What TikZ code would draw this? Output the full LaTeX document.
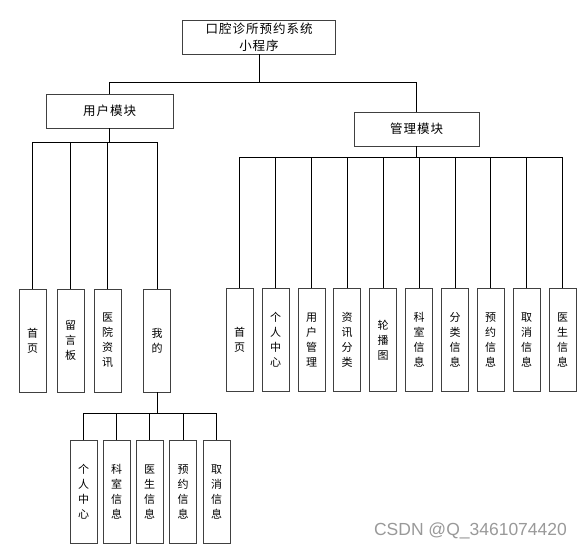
\documentclass[tikz,border=0pt]{standalone}
\usepackage{fontspec}
\setmainfont{Liberation Sans}
\newfontfamily\cjk{Noto Sans CJK SC}
\newfontfamily\cjkwide[LetterSpace=8]{Noto Sans CJK SC}
\tikzset{
  box/.style={draw=black!75, line width=0.8pt, fill=white, inner sep=0pt, align=center,
    font=\cjk\fontsize{11}{15}\selectfont},
  modbox/.style={box, minimum height=34pt, font=\cjkwide\fontsize{12.5}{17}\selectfont},
  leaf/.style={box, minimum width=27pt, minimum height=103pt},
  link/.style={line width=0.8pt}
}
\begin{document}
\begin{tikzpicture}[x=1pt,y=-1pt]
  \useasboundingbox (0,0) rectangle (585,549);
  \node[modbox, minimum width=153pt] (sys) at (259,37) {口腔诊所预约系统\\小程序};
  \node[modbox, minimum width=127pt] (user) at (109.5,111) {用户模块};
  \node[modbox, minimum width=125pt] (admin) at (416.5,129) {管理模块};
  \coordinate (bus0) at (0,82);
  \coordinate (bus1) at (0,142);
  \coordinate (bus2) at (0,157);
  \coordinate (bus3) at (0,413);
  \node[leaf] (u1) at (32.5,340.5) {首\\页};
  \node[leaf] (u2) at (70.5,340.5) {留\\言\\板};
  \node[leaf] (u3) at (107.5,340.5) {医\\院\\资\\讯};
  \node[leaf] (u4) at (157,340.5) {我\\的};
  \node[leaf] (a1) at (239.5,340) {首\\页};
  \node[leaf] (a2) at (275.5,340) {个\\人\\中\\心};
  \node[leaf] (a3) at (311.5,340) {用\\户\\管\\理};
  \node[leaf] (a4) at (347,340) {资\\讯\\分\\类};
  \node[leaf] (a5) at (383,340) {轮\\播\\图};
  \node[leaf] (a6) at (419,340) {科\\室\\信\\息};
  \node[leaf] (a7) at (455,340) {分\\类\\信\\息};
  \node[leaf] (a8) at (490.5,340) {预\\约\\信\\息};
  \node[leaf] (a9) at (526.5,340) {取\\消\\信\\息};
  \node[leaf] (a10) at (562.5,340) {医\\生\\信\\息};
  \node[leaf] (m1) at (83.5,492) {个\\人\\中\\心};
  \node[leaf] (m2) at (116.5,492) {科\\室\\信\\息};
  \node[leaf] (m3) at (149.5,492) {医\\生\\信\\息};
  \node[leaf] (m4) at (183,492) {预\\约\\信\\息};
  \node[leaf] (m5) at (216.5,492) {取\\消\\信\\息};
  \draw[link] (sys.south) -- (sys.south |- bus0);
  \draw[link] (user.north) -- (user.north |- bus0) -- (admin.north |- bus0) -- (admin.north);
  \draw[link] (user.south) -- (user.south |- bus1);
  \draw[link] (u1.north |- bus1) -- (u4.north |- bus1);
  \foreach \n in {u1,u2,u3,u4}
    \draw[link] (\n.north) -- (\n.north |- bus1);
  \draw[link] (admin.south) -- (admin.south |- bus2);
  \draw[link] (a1.north |- bus2) -- (a10.north |- bus2);
  \foreach \n in {a1,a2,a3,a4,a5,a6,a7,a8,a9,a10}
    \draw[link] (\n.north) -- (\n.north |- bus2);
  \draw[link] (u4.south) -- (u4.south |- bus3);
  \draw[link] (m1.north |- bus3) -- (m5.north |- bus3);
  \foreach \n in {m1,m2,m3,m4,m5}
    \draw[link] (\n.north) -- (\n.north |- bus3);
  \node[text=black!40, font=\fontsize{17.5}{20}\selectfont] (mark) at (470.5,531) {CSDN @Q\_3461074420};
\end{tikzpicture}
\end{document}
